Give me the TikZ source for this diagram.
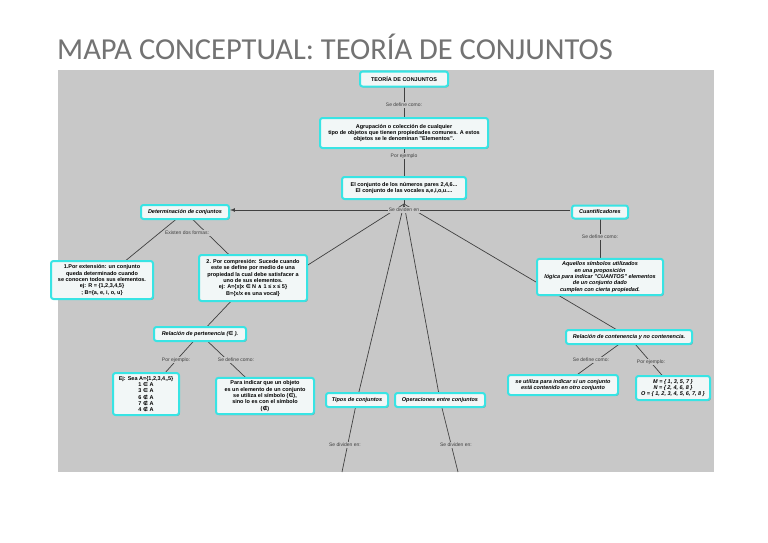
\documentclass[tikz,border=0pt]{standalone}
\usepackage{fontspec}
\setmainfont{Liberation Sans}
\newfontfamily\titlefont{Carlito}
\newfontfamily\sym{DejaVu Sans}
\usetikzlibrary{shadows}
\definecolor{bg}{HTML}{C8C8C8}
\definecolor{cy}{HTML}{38E4E4}
\definecolor{bx}{HTML}{F2F7F7}
\definecolor{ln}{HTML}{404040}
\newcommand{\inn}{{\sym ∈}}
\newcommand{\nin}{{\sym ∉}}
\newcommand{\andd}{{\sym ∧}}
\tikzset{
  x=1pt,y=-1pt,
  cbox/.style={draw=cy,line width=2pt,fill=bx,rounded corners=2.5pt,align=center,
    font=\fontsize{5.5}{6.3}\selectfont\bfseries,inner sep=3pt,
    drop shadow={shadow xshift=0.9pt,shadow yshift=-0.9pt,fill=black!70}},
  ibox/.style={cbox,font=\fontsize{5.5}{6.3}\selectfont\bfseries\itshape},
  lab/.style={fill=bg,inner sep=0.8pt,font=\fontsize{5}{6}\selectfont,text=black!75},
  con/.style={draw=ln,line width=0.7pt}
}
\begin{document}
\begin{tikzpicture}
\useasboundingbox (0,0) rectangle (768,543);
\fill[white] (0,0) rectangle (768,543);
\node[anchor=west,font=\titlefont\fontsize{30.5}{34}\selectfont,text=black!55,inner sep=0] (title) at (57,47) {MAPA CONCEPTUAL: TEORÍA DE CONJUNTOS};
\fill[bg] (58,70) rectangle (714,472);
\coordinate (hub) at (404,204);
\coordinate (tb) at (342,472);
\coordinate (ob) at (458,472);
\draw[con] (404,79) -- (404,204);
\draw[con,-latex] (570,210) -- (230,210);
\draw[con] (185,212) -- (102,280);
\draw[con] (185,212) -- (253,278);
\draw[con] (hub) -- (300,270);
\draw[con] (hub) -- (357,400);
\draw[con] (hub) -- (440,400);
\draw[con] (hub) -- (629,337);
\draw[con] (253,278) -- (200,334);
\draw[con] (200,334) -- (146,394);
\draw[con] (200,334) -- (265,396);
\draw[con] (600,212) -- (600,277);
\draw[con] (629,337) -- (563,385);
\draw[con] (629,337) -- (673,388);
\draw[con] (357,400) -- (tb);
\draw[con] (440,400) -- (ob);
\node[cbox,minimum width=88pt,minimum height=15pt] (teo) at (404,79) {TEORÍA DE CONJUNTOS};
\node[cbox,minimum width=168pt,minimum height=30pt] (agr) at (404,133) {Agrupación o colección de cualquier\\tipo de objetos que tienen propiedades comunes. A estos\\objetos se le denominan "Elementos".};
\node[cbox,minimum width=124pt,minimum height=22pt] (ejm) at (404,188) {El conjunto de los números pares 2,4,6...\\El conjunto de las vocales a,e,i,o,u....};
\node[ibox,minimum width=88pt,minimum height=14pt] (det) at (185,212) {Determinación de conjuntos};
\node[cbox,minimum width=102pt,minimum height=38pt] (ext) at (102,280) {1.Por extensión: un conjunto\\queda determinado cuando\\se conocen todos sus elementos.\\ej: R = \{1,2,3,4,5\}\\; B=\{a, e, i, o, u\}};
\node[cbox,minimum width=108pt,minimum height=46pt] (com) at (253,278) {2. Por compresión: Sucede cuando\\este se define por medio de una\\propiedad la cual debe satisfacer a\\uno de sus elementos.\\ej: A=\{x|x \inn{} N \andd{} 1 ≤ x ≤ 5\}\\B=\{x/x es una vocal\}};
\node[ibox,minimum width=92pt,minimum height=14pt] (per) at (200,334) {Relación de pertenencia (\inn{} ).};
\node[cbox,minimum width=66pt,minimum height=42pt] (ejs) at (146,394) {Ej: Sea A=\{1,2,3,4,,5\}\\1 \inn{} A\\3 \inn{} A\\6 \nin{} A\\7 \nin{} A\\4 \nin{} A};
\node[cbox,minimum width=98pt,minimum height=36pt] (par) at (265,396) {Para indicar que un objeto\\es un elemento de un conjunto\\se utiliza el símbolo (\inn),\\sino lo es con el símbolo\\(\nin)};
\node[ibox,minimum width=62pt,minimum height=14pt] (tip) at (357,400) {Tipos de conjuntos};
\node[ibox,minimum width=90pt,minimum height=14pt] (ope) at (440,400) {Operaciones entre conjuntos};
\node[ibox,minimum width=56pt,minimum height=13pt] (cua) at (600,212) {Cuantificadores};
\node[ibox,minimum width=126pt,minimum height=36pt] (aqu) at (600,277) {Aquellos símbolos utilizados\\en una proposición\\lógica para indicar "CUANTOS" elementos\\de un conjunto dado\\cumplen con cierta propiedad.};
\node[ibox,minimum width=126pt,minimum height=14pt] (con) at (629,337) {Relación de contenencia y no contenencia.};
\node[ibox,minimum width=110pt,minimum height=20pt] (uti) at (563,385) {se utiliza para indicar si un conjunto\\está contenido en otro conjunto};
\node[ibox,minimum width=74pt,minimum height=24pt] (mnq) at (673,388) {M = \{ 1, 3, 5, 7 \}\\N = \{ 2, 4, 6, 8 \}\\O = \{ 1, 2, 3, 4, 5, 6, 7, 8 \}};
\node[lab] (l1) at (404,105) {Se define como:};
\node[lab] (l2) at (404,156) {Por ejemplo};
\node[lab] (l3) at (404,210) {Se dividen en};
\node[lab] (l4) at (187,233) {Existen dos formas:};
\node[lab] (l5) at (176,360) {Por ejemplo:};
\node[lab] (l6) at (236,360) {Se define como:};
\node[lab] (l7) at (600,237) {Se define como:};
\node[lab] (l8) at (591,360) {Se define como:};
\node[lab] (l9) at (651,362) {Por ejemplo:};
\node[lab] (l10) at (345,445) {Se dividen en:};
\node[lab] (l11) at (456,445) {Se dividen en:};
\end{tikzpicture}
\end{document}
